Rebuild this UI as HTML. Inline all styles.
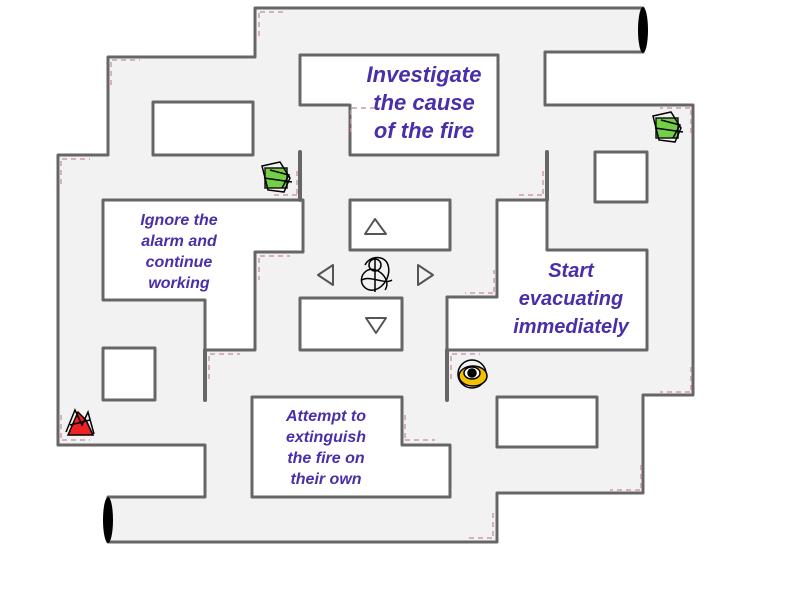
<!DOCTYPE html>
<html><head><meta charset="utf-8"><style>
html,body{margin:0;padding:0;background:#fff;}
svg{display:block;}
text{font-family:"Liberation Sans",sans-serif;font-style:italic;font-weight:bold;fill:#4a2fa8;text-anchor:middle;}
</style></head><body>
<svg width="800" height="600" viewBox="0 0 800 600" xmlns="http://www.w3.org/2000/svg">
<!-- corridor region -->
<path d="M255,8 L643,8 L643,52 L545,52 L545,105 L693,105 L693,395 L643,395 L643,493 L497,493 L497,542 L108,542 L108,497 L205,497 L205,445 L58,445 L58,155 L108,155 L108,57 L255,57 Z" fill="#f2f2f2" stroke="#666" stroke-width="3" stroke-linejoin="round"/>
<g fill="#fff" stroke="#666" stroke-width="3" stroke-linejoin="round">
<rect x="153" y="102" width="100" height="53"/>
<path d="M300,55 L498,55 L498,155 L350,155 L350,105 L300,105 Z"/>
<path d="M103,200 L303,200 L303,252 L255,252 L255,350 L205,350 L205,300 L103,300 Z"/>
<rect x="350" y="200" width="100" height="50"/>
<rect x="300" y="298" width="102" height="52"/>
<rect x="103" y="348" width="52" height="52"/>
<path d="M252,397 L402,397 L402,445 L450,445 L450,497 L252,497 Z"/>
<rect x="497" y="397" width="100" height="50"/>
<rect x="595" y="152" width="52" height="50"/>
<path d="M497,200 L547,200 L547,250 L647,250 L647,350 L447,350 L447,297 L497,297 Z"/>
</g>
<g stroke="#666" stroke-width="4" stroke-linecap="round">
<line x1="547" y1="152" x2="547" y2="200"/>
<line x1="300" y1="152" x2="300" y2="200"/>
<line x1="205" y1="350" x2="205" y2="400"/>
<line x1="447" y1="350" x2="447" y2="400"/>
</g>
<!-- colored dashed corners -->
<g fill="none" stroke="#c9a" stroke-width="1.5" stroke-dasharray="5,4">
<path d="M260,12 L285,12 M259,13 L259,40"/>
<path d="M112,60 L140,60 M111,62 L111,85"/>
<path d="M62,159 L90,159 M61,161 L61,185"/>
<path d="M297,195 L270,195 M297,194 L297,170"/>
<path d="M260,256 L290,256 M259,258 L259,280"/>
<path d="M210,354 L240,354 M209,356 L209,380"/>
<path d="M62,440 L90,440 M61,438 L61,415"/>
<path d="M405,440 L435,440 M405,438 L405,415"/>
<path d="M452,354 L480,354 M451,356 L451,380"/>
<path d="M492,538 L465,538 M493,536 L493,510"/>
<path d="M640,490 L610,490 M641,488 L641,465"/>
<path d="M690,392 L660,392 M691,390 L691,365"/>
<path d="M690,108 L660,108 M691,110 L691,135"/>
<path d="M542,195 L515,195 M543,194 L543,170"/>
<path d="M493,293 L465,293 M494,292 L494,270"/>
<path d="M352,108 L380,108 M351,110 L351,132"/>
</g>
<!-- cylinders -->
<ellipse cx="643" cy="30" rx="5" ry="23" fill="#000"/>
<ellipse cx="108" cy="520" rx="5" ry="23" fill="#000"/>
<!-- arrows -->
<g fill="none" stroke="#555" stroke-width="2" stroke-linejoin="round">
<path d="M365,234 L375,219 L386,234 Z"/>
<path d="M366,318 L386,318 L376,333 Z"/>
<path d="M333,265 L333,285 L318,275 Z"/>
<path d="M418,265 L418,285 L433,275 Z"/>
</g>
<!-- icons -->
<g fill="none" stroke="#000" stroke-width="1.5">
<rect x="265" y="168" width="22" height="20" fill="#6c3" opacity="0.9"/>
<path d="M262,166 L280,162 L290,178 L284,192 L268,190 Z M270,170 L289,175 L282,188 M264,178 L292,182"/>
<rect x="656" y="118" width="22" height="20" fill="#6c3" opacity="0.9"/>
<path d="M653,116 L671,112 L681,128 L675,142 L659,140 Z M661,120 L680,125 L673,138 M655,128 L683,132"/>
<path d="M365,265 C370,255 385,255 388,265 C392,278 380,292 370,290 C360,288 358,275 368,270 C378,266 392,280 385,290 M375,258 L375,292 M362,280 C370,275 385,285 392,280"/>
<circle cx="375" cy="265" r="6"/>
<ellipse cx="472" cy="374" rx="14" ry="14"/>
<ellipse cx="473" cy="376" rx="14" ry="10" fill="#f2c200"/>
<ellipse cx="472" cy="373" rx="8" ry="6" fill="#fff"/>
<circle cx="472" cy="373" r="4" fill="#000"/>
<path d="M68,435 L78,412 L86,420 L93,435 Z" fill="#e22"/>
<path d="M66,432 L75,410 L82,425 L88,412 L94,434 M70,425 L90,420"/>
</g>
<!-- labels -->
<text x="424" y="82" font-size="22">Investigate</text>
<text x="424" y="110" font-size="22">the cause</text>
<text x="424" y="138" font-size="22">of the fire</text>
<text x="179" y="225" font-size="16">Ignore the</text>
<text x="179" y="246" font-size="16">alarm and</text>
<text x="179" y="267" font-size="16">continue</text>
<text x="179" y="288" font-size="16">working</text>
<text x="571" y="277" font-size="20">Start</text>
<text x="571" y="305" font-size="20">evacuating</text>
<text x="571" y="333" font-size="20">immediately</text>
<text x="326" y="421" font-size="16">Attempt to</text>
<text x="326" y="442" font-size="16">extinguish</text>
<text x="326" y="463" font-size="16">the fire on</text>
<text x="326" y="484" font-size="16">their own</text>
</svg>
</body></html>
